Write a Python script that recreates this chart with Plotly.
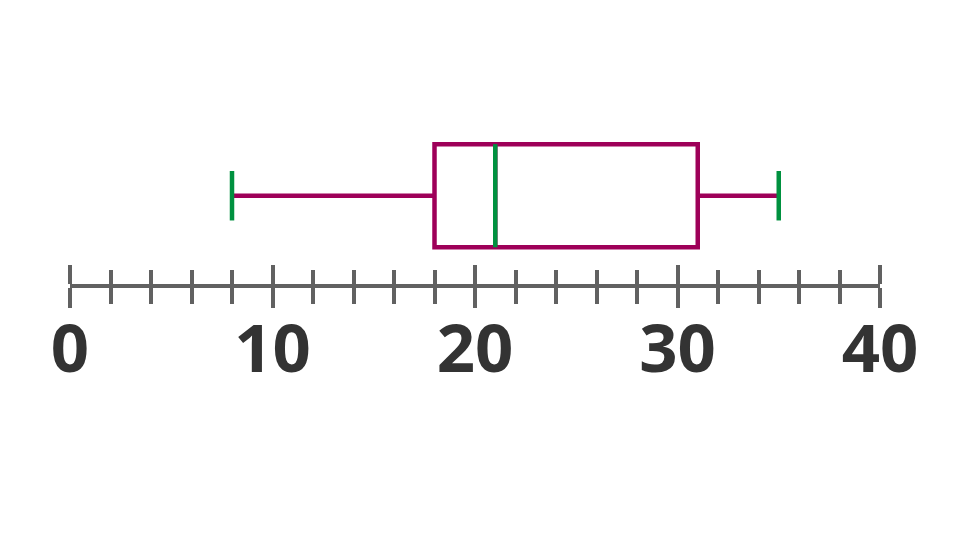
import plotly.graph_objects as go

# five-number summary
minimum = [8]
q1 = [18]
median = [21]
q3 = [31]
maximum = [35]

tick_values = [0, 10, 20, 30, 40]
tick_labels = ["0", "10", "20", "30", "40"]

PURPLE = "#9E0059"
GREEN = "#00913F"
AXIS = "#616161"

box_pos = 0
box_width = 1.0
cap_half = 0.24

fig = go.Figure()

fig.add_trace(
    go.Box(
        y=[box_pos],
        q1=q1,
        median=median,
        q3=q3,
        lowerfence=minimum,
        upperfence=maximum,
        orientation="h",
        width=box_width,
        whiskerwidth=0,
        line=dict(color=PURPLE, width=4.5),
        fillcolor="rgba(0,0,0,0)",
        hoverinfo="skip",
        boxpoints=False,
    )
)

# green median line and whisker caps on top of the box
for value, half in [(median[0], box_width / 2), (minimum[0], cap_half), (maximum[0], cap_half)]:
    fig.add_trace(
        go.Scatter(
            x=[value, value],
            y=[box_pos - half, box_pos + half],
            mode="lines",
            line=dict(color=GREEN, width=4.5),
            hoverinfo="skip",
        )
    )

axis_common = dict(
    range=[0, 40],
    showgrid=False,
    zeroline=False,
    tickvals=tick_values,
    tickwidth=4,
    tickcolor=AXIS,
)

# the page body adds 8px, so margins are shifted by that
fig.update_layout(
    width=976,
    height=549,
    margin=dict(l=62, r=104, t=32, b=273),
    paper_bgcolor="white",
    plot_bgcolor="white",
    showlegend=False,
    xaxis=dict(
        **axis_common,
        ticktext=tick_labels,
        showline=True,
        linecolor=AXIS,
        linewidth=4,
        ticks="outside",
        ticklen=20,
        ticklabelstandoff=-16,
        minor=dict(dtick=2, ticks="outside", ticklen=16, tickwidth=4, tickcolor=AXIS),
        tickfont=dict(family="Open Sans", size=67, color="#333333", weight="bold"),
    ),
    # second axis on the same line, ticks pointing upwards
    xaxis2=dict(
        **axis_common,
        overlaying="x",
        anchor="free",
        position=0,
        side="top",
        showline=False,
        showticklabels=False,
        ticks="outside",
        ticklen=19,
        minor=dict(dtick=2, ticks="outside", ticklen=14, tickwidth=4, tickcolor=AXIS),
    ),
    yaxis=dict(
        range=[-0.856, 1.51],
        visible=False,
        showgrid=False,
        zeroline=False,
    ),
)

# invisible trace so that xaxis2 is drawn
fig.add_trace(go.Scatter(x=[0], y=[None], xaxis="x2", mode="markers", hoverinfo="skip"))

fig.write_html("out.html")
